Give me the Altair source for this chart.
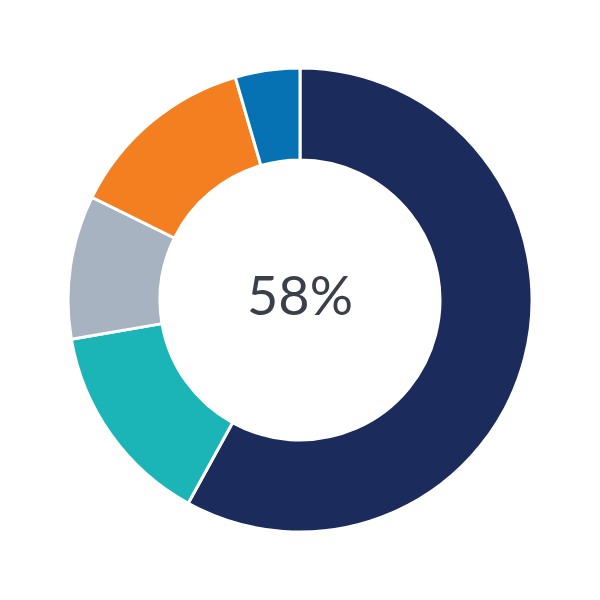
import altair as alt
import pandas as pd

categories = ["A", "B", "C", "D", "E"]
values = [58, 14.3, 10, 13.2, 4.5]
colors = ["#1b2b5b", "#1bb5b7", "#a8b3c1", "#f37f21", "#0672b3"]
center_label = ["58%"]

df = pd.DataFrame({"cat": categories, "val": values, "order": list(range(len(values)))})

arc = alt.Chart(df).mark_arc(outerRadius=232, innerRadius=140, stroke="white", strokeWidth=3).encode(
    theta=alt.Theta("val:Q", stack=True),
    color=alt.Color("cat:N", scale=alt.Scale(domain=categories, range=colors), legend=None),
    order=alt.Order("order:Q"),
)

text = alt.Chart(pd.DataFrame({"t": center_label})).mark_text(
    font="Lato", fontSize=54, color="#3a404a", baseline="middle", align="center"
).encode(text="t:N", x=alt.value(292), y=alt.value(291))

chart = alt.layer(arc, text).properties(
    width=584, height=584, autosize=alt.AutoSizeParams(type="none"), padding=0
).configure_view(stroke=None)

chart.save("out.html", embed_options={"renderer": "svg", "actions": False})
